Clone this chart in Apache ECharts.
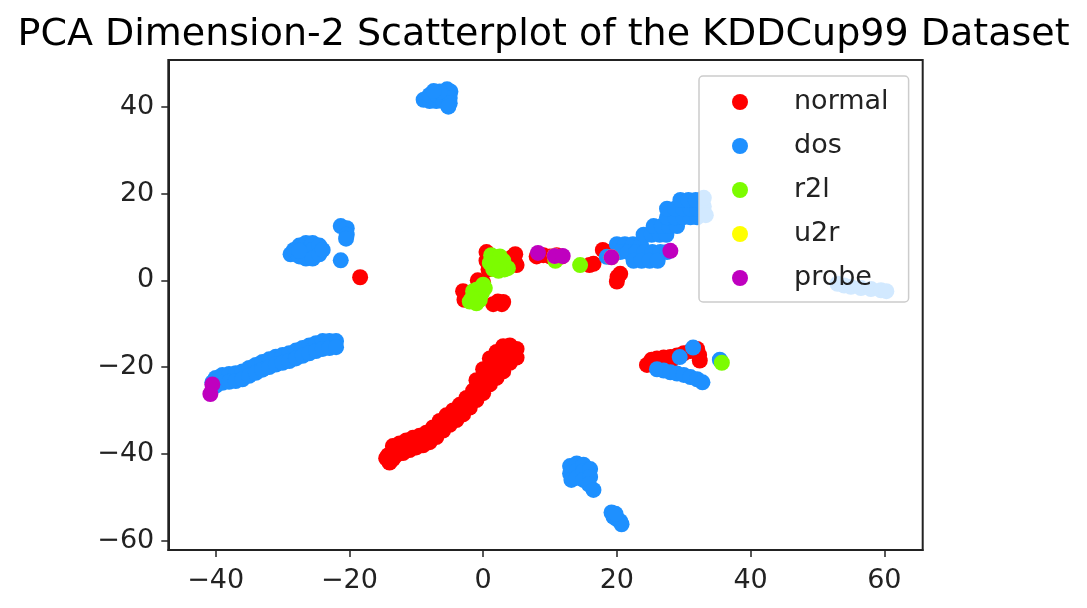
<!DOCTYPE html>
<html>
<head>
<meta charset="utf-8">
<script src="https://cdn.jsdelivr.net/npm/echarts@6/dist/echarts.min.js"></script>
<style>html,body{margin:0;padding:0;background:#fff;}#c{width:1087px;height:608px;}</style>
</head>
<body>
<div id="c"></div>
<script>
const titleText = 'PCA Dimension-2 Scatterplot of the KDDCup99 Dataset';
const seriesNames = ['normal', 'dos', 'r2l', 'u2r', 'probe'];
const xTicks = [-40, -20, 0, 20, 40, 60];
const yTicks = [-60, -40, -20, 0, 20, 40];

const normalPts = [
  // long curve, lower part (two rows)
  [-14.2,-40.3],[-14,-42],[-13.5,-41.2],[-14.5,-41],
  [-13.5,-38.2],[-12.5,-37.6],[-11.5,-36.9],[-10.5,-36.3],[-9.5,-35.8],[-8.5,-35.1],[-7.5,-33.9],[-6.5,-32.4],
  [-5.5,-31.1],[-4.5,-30],[-3.5,-28.7],[-2.5,-27.1],[-1.5,-25.4],
  [-13,-40.3],[-12,-39.8],[-11,-39.1],[-10,-38.5],[-9,-38],[-8,-37.3],[-7,-36.1],[-6,-34.6],
  [-5,-33.3],[-4,-32.2],[-3,-30.9],[-2,-29.3],[-1,-27.6],
  // long curve, wide upper part
  [-1,-23],[-1,-25],[0,-20.5],[0,-22.5],[0,-24.5],[0,-26],
  [1,-18],[1,-20],[1,-22],[1,-24],
  [2,-16.5],[2,-18.5],[2,-20.5],[2,-22.5],
  [3,-15.2],[3,-17.5],[3,-19.5],[3,-21],
  [4,-15],[4,-17.2],[4,-19],[5,-15.8],[5,-17.8],
  [-18.4,0.7],
  // central clusters
  [-2.5,-2.9],[-3,-2.5],[-2.8,-4.5],[-0.8,0],[0,-0.5],[2.2,-4.9],[2.8,-5.5],[1.5,-5.5],[3,-5],[-1.5,-4],
  [1,5.8],[0.5,6.5],[0.5,4.5],[4.7,4.3],[4.2,5.2],[4.8,6],[5,3.5],[0.8,2.5],
  [8,5.5],[9,5.8],[10,5.5],[11,5.8],[11.8,5.5],
  [15.9,3.5],[16.5,3.8],[17.9,7],[18.5,6.5],
  [20.1,0.8],[20,-0.3],[20.5,1.5],
  // right lower band
  [24.5,-19.5],[25.5,-19],[25.2,-18.3],[26,-18],[27,-17.8],[28,-17.7],[29,-17.3],[30,-16.8],[31,-16.3],
  [32,-15.8],[32.3,-17.2],[32.4,-18.5],[26.5,-19],[28,-18.8]
];
const dosPts = [
  // top cluster
  [-8.9,41.6],[-8,41.3],[-8,42.7],[-7,41.3],[-7,42.7],[-6,41.3],[-6,42.7],[-5.4,44],[-4.9,43.5],
  [-5,42],[-5,40.8],[-5.2,40],[-6.5,43.5],[-7.4,43.6],
  // left middle blob
  [-28.8,6],[-28.3,7],[-27.5,8],[-27.5,5.5],[-26.5,8.6],[-26.5,7],[-26.5,5],[-25.5,8.6],[-25.5,7],
  [-25.5,5],[-24.5,8],[-24.5,6],[-24,7],[-27.5,6.8],
  [-21.3,12.5],[-20.4,12],[-20.4,10.5],[-20.5,9.6],[-21.3,4.6],
  // lower-left band (two rows)
  [-40.5,-23.5],[-40,-22.5],[-39,-21.8],[-38,-21.6],[-37,-21.4],[-36,-21],[-35,-20.2],[-34,-19.5],[-33,-18.8],
  [-32,-18.2],[-31,-17.6],[-30,-17.2],[-29,-16.8],[-28,-16.2],[-27,-15.6],[-26,-15],[-25,-14.5],[-24,-14],
  [-23,-14],[-22,-14],
  [-40,-24.3],[-39,-23.6],[-38,-23.4],[-37,-23.2],[-36,-22.8],[-35,-22],[-34,-21.3],[-33,-20.6],
  [-32,-20],[-31,-19.4],[-30,-19],[-29,-18.6],[-28,-18],[-27,-17.4],[-26,-16.8],[-25,-16.3],[-24,-15.8],
  [-23,-15.6],[-22,-15.4],
  // upper right cluster
  [18.5,5.4],
  [20,8.3],[21.2,8.3],[22.4,8.3],[23.6,8.3],
  [20.5,6.5],[21.7,6.5],[22.9,6.5],[24.1,6.5],[25.3,6.5],[26.5,6.5],[27.5,6.5],
  [22.5,4.5],[23.7,4.5],[24.9,4.5],[26.1,4.5],
  [24,10.5],[25.2,10.5],[26.4,10.5],[27.4,10.5],
  [25.5,12.5],[26.7,12.5],[27.8,12.5],[29,12.5],
  [27.5,14.5],[28.7,14.5],[29.9,14.5],[31,14.5],[32,14.5],
  [27.5,16.5],[28.7,16.5],[29.9,16.5],[31,16.5],[32,16.5],
  [29.5,18.5],[30.7,18.5],[31.8,18.5],
  [33,17],[33.3,15],[33,19],
  // hidden behind legend
  [53,-0.8],[54,-1.2],[55,-1.5],[56.5,-1.8],[58,-2],[59.5,-2.3],[60.3,-2.5],
  // right lower band
  [26,-20.5],[27,-20.8],[28,-21.2],[29,-21.5],[30,-21.8],[31,-22.3],[32,-22.8],[32.8,-23.5],
  [29.4,-17.7],[31.4,-15.5],[35.4,-18.3],
  // bottom clusters
  [13,-42.8],[13,-44.5],[13.2,-46],[14,-42.2],[14,-44],[14,-45.5],[15,-42.5],[15,-44],[15,-46],
  [16,-43.5],[16,-45.3],[15.8,-47],[16.5,-48.3],
  [19.2,-53.5],[19.5,-54.5],[20,-55],[20.5,-55.5],[20.7,-56.2],[19.8,-53.8]
];
const r2lPts = [
  [-1,-3.8],[0.25,-1.8],[-2,-4.9],[-1.5,-2.5],[-0.5,-4.5],[-1,-2.2],[-0.2,-3],[-1.7,-4.2],[-1,-5.3],[0,-1],
  [1.2,5.8],[1.75,5.1],[2,4],[3.7,2.8],[1.5,2.6],[2.8,3.5],[3.2,2.5],[2.5,5.5],[2,3],[3,4.5],[1,4],[2.3,2.2],
  [10.8,4.5],[14.5,3.5],[35.7,-19]
];
const u2rPts = [[10.7,5.6],[19.2,5.3]];
const probePts = [[-40.5,-24],[-40.8,-26.2],[8.2,6.3],[10.7,5.6],[11.9,5.6],[19.2,5.3],[28,6.8]];

const colors = ['#ff0000', '#1e90ff', '#7cfc00', '#ffff00', '#bf00bf'];
const allPts = [normalPts, dosPts, r2lPts, u2rPts, probePts];

const FONT = 'DejaVu Sans';
const minus = v => String(v).replace('-', '\u2212');

const chart = echarts.init(document.getElementById('c'));
chart.setOption({
  animation: false,
  backgroundColor: '#fff',
  title: {
    text: titleText, left: 'center', top: 11,
    textStyle: {fontFamily: FONT, fontSize: 38, fontWeight: 'normal', color: '#000'}
  },
  grid: {left: 168.3, right: 164.3, top: 60, bottom: 58, show: true, borderColor: '#222', borderWidth: 2},
  xAxis: {
    type: 'value', min: -47.09, max: 65.74,
    splitLine: {show: false},
    axisLine: {show: true, onZero: false, lineStyle: {color: '#222', width: 2}},
    axisTick: {show: true, customValues: xTicks, length: 7, lineStyle: {color: '#222', width: 1.5}},
    axisLabel: {customValues: xTicks, formatter: minus, margin: 17, fontFamily: FONT, fontSize: 27, color: '#222'}
  },
  yAxis: {
    type: 'value', min: -62.14, max: 50.76,
    splitLine: {show: false},
    axisLine: {show: true, onZero: false, lineStyle: {color: '#222', width: 2}},
    axisTick: {show: true, customValues: yTicks, length: 7, lineStyle: {color: '#222', width: 1.5}},
    axisLabel: {customValues: yTicks, formatter: minus, margin: 14, fontFamily: FONT, fontSize: 27, color: '#222'}
  },
  legend: {
    orient: 'vertical', left: 699, top: 76, z: 10,
    data: seriesNames,
    icon: 'circle', itemWidth: 16, itemHeight: 16, itemGap: 16,
    padding: [12, 20, 10, 33],
    backgroundColor: 'rgba(255,255,255,0.8)', borderColor: '#cccccc', borderWidth: 1.5, borderRadius: 4,
    textStyle: {fontFamily: FONT, fontSize: 27, color: '#222', lineHeight: 28, padding: [0, 0, 0, 41]}
  },
  series: seriesNames.map((n, i) => ({
    name: n, type: 'scatter', data: allPts[i], symbolSize: 16,
    itemStyle: {color: colors[i], opacity: 1},
    emphasis: {disabled: true}
  }))
});
</script>
</body>
</html>
